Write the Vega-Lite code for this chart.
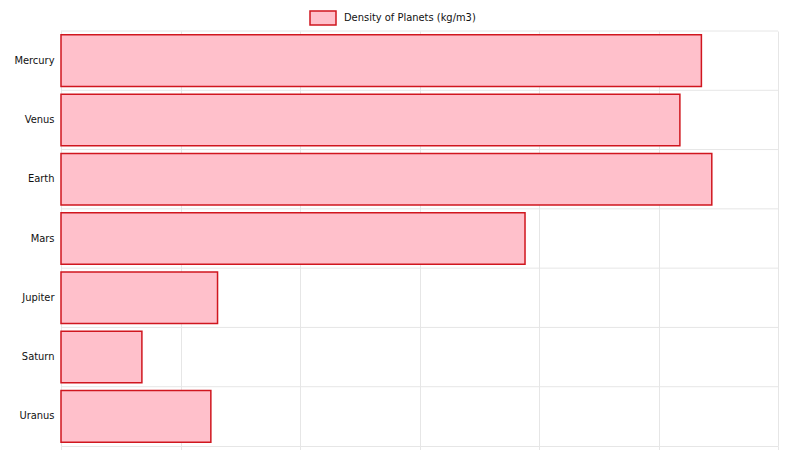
{
  "$schema": "https://vega.github.io/schema/vega-lite/v6.json",
  "width": 717,
  "height": 415,
  "autosize": {"type": "none"},
  "padding": {"left": 61, "top": 31, "right": 22, "bottom": 4},
  "background": "white",
  "data": {
    "values": [
      {"planet": "Mercury", "density": 5359},
      {"planet": "Venus", "density": 5179},
      {"planet": "Earth", "density": 5446},
      {"planet": "Mars", "density": 3883},
      {"planet": "Jupiter", "density": 1310},
      {"planet": "Saturn", "density": 677},
      {"planet": "Uranus", "density": 1254}
    ]
  },
  "layer": [
    {
      "mark": {"type": "rule", "color": "#e6e6e6", "strokeWidth": 1},
      "encoding": {
        "y": {"field": "planet", "type": "nominal", "sort": null, "bandPosition": 0}
      }
    },
    {
      "mark": {
        "type": "bar",
        "height": {"band": 0.87},
        "stroke": "#d0161f",
        "strokeWidth": 1.5,
        "opacity": 1
      },
      "encoding": {
        "y": {
          "field": "planet",
          "type": "nominal",
          "sort": null,
          "scale": {"paddingInner": 0, "paddingOuter": 0},
          "axis": {
            "title": null,
            "grid": false,
            "ticks": false,
            "domain": false,
            "labelPadding": 7,
            "labelFontSize": 11,
            "labelColor": "#111111"
          }
        },
        "x": {
          "field": "density",
          "type": "quantitative",
          "scale": {"domain": [0, 6000], "nice": false},
          "axis": {
            "title": null,
            "values": [0, 1000, 2000, 3000, 4000, 5000, 6000],
            "grid": true,
            "labels": false,
            "gridColor": "#e6e6e6",
            "tickColor": "#e6e6e6",
            "tickSize": 8,
            "domainColor": "#e6e6e6"
          }
        },
        "color": {
          "datum": "Density of Planets (kg/m3)",
          "scale": {"range": ["#ffc0cb"]},
          "legend": {
            "title": null,
            "orient": "none",
            "legendX": 248,
            "legendY": -27,
            "padding": 0,
            "symbolType": "M-1,-0.54H1V0.54H-1Z",
            "symbolSize": 676,
            "symbolStrokeColor": "#d0161f",
            "symbolStrokeWidth": 1.5,
            "symbolOpacity": 1,
            "labelFontSize": 11,
            "labelColor": "#111111",
            "labelOffset": 7
          }
        }
      }
    }
  ],
  "config": {
    "view": {"stroke": null},
    "font": "DejaVu Sans Condensed",
    "axis": {"labelFont": "DejaVu Sans Condensed"},
    "legend": {"labelFont": "DejaVu Sans Condensed"}
  }
}
